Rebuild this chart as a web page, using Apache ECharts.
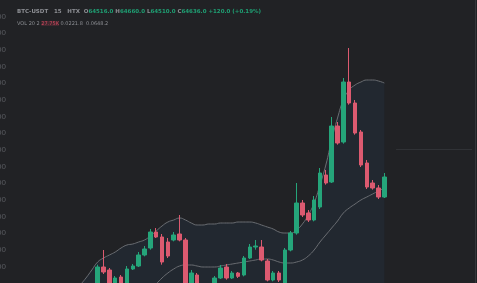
<!DOCTYPE html>
<html><head><meta charset="utf-8">
<script src="https://cdn.jsdelivr.net/npm/echarts@6/dist/echarts.min.js"></script>
<style>html,body{margin:0;padding:0;background:#212225;}#c{width:477px;height:283px;}</style>
</head><body><div id="c"></div>
<script>
// ---- data ----
const categoryCount = 80;           // time slots on the x axis
const candleStart = 15;             // first visible candle slot
const opens  = [63958,64096,64078,63958,64036,63946,64084,64102,64168,64210,64306,64276,64246,64258,64294,64258,63958,64048,63946,63970,63970,64030,64096,64030,64060,64048,64150,64216,64216,64132,64018,64060,63970,64198,64300,64480,64420,64378,64456,64648,64606,64942,64846,65206,65080,64906,64720,64600,64570,64516];
const closes = [64096,64066,63958,64030,63946,64084,64102,64168,64204,64306,64276,64126,64162,64288,64258,63958,64060,63958,63970,63988,64030,64090,64030,64060,64040,64150,64216,64222,64138,64018,64060,64018,64198,64300,64480,64408,64378,64498,64660,64600,64942,64840,65206,65080,64900,64708,64576,64570,64516,64636];
const lows   = [63940,64054,63946,63940,63930,63930,64078,64096,64160,64200,64270,64110,64150,64250,64250,63940,63946,63940,63930,63960,63960,64024,64020,64024,64030,64040,64144,64200,64130,64010,64010,64006,63960,64190,64290,64396,64366,64370,64444,64590,64600,64830,64836,65070,64890,64696,64564,64560,64504,64510];
const highs  = [64110,64198,64090,64042,64048,64102,64114,64186,64222,64324,64330,64294,64270,64306,64408,64270,64078,64060,63982,63994,64042,64108,64114,64072,64066,64162,64234,64258,64258,64144,64072,64072,64210,64312,64600,64498,64438,64522,64690,64678,64996,64966,65230,65410,65098,64918,64738,64618,64588,64660];
const upperStart = 12;
const upperBand = [63988,64030,64078,64126,64150,64168,64186,64210,64228,64234,64246,64258,64282,64312,64342,64366,64378,64390,64378,64360,64348,64348,64354,64354,64360,64360,64360,64366,64366,64366,64360,64348,64336,64324,64306,64300,64300,64318,64354,64408,64480,64588,64708,64858,64990,65098,65158,65188,65206,65218,65218,65212,65200];
const lowerStart = 24;
const lowerBand = [63958,63994,64030,64060,64084,64102,64108,64108,64102,64096,64096,64096,64102,64108,64114,64120,64126,64132,64138,64144,64144,64138,64126,64120,64120,64126,64138,64162,64198,64246,64288,64330,64372,64420,64450,64474,64498,64516,64534,64552,64570];
const priceLine = 64800;            // faint horizontal price line on the right
const priceLineFrom = 66, priceLineTo = 79;
const yMin = 64000, yMax = 65698, yStep = 100;

// ---- build series arrays ----
const cats = [];
for (let i = 0; i < categoryCount; i++) cats.push(String(i));
const candles = new Array(categoryCount).fill('-');
opens.forEach((o, i) => { candles[candleStart + i] = [o, closes[i], lows[i], highs[i]]; });
const up = new Array(categoryCount).fill('-');
upperBand.forEach((v, i) => { up[upperStart + i] = v; });
const lo = new Array(categoryCount).fill('-');
lowerBand.forEach((v, i) => { lo[lowerStart + i] = v; });

const green = '#25a57a', red = '#dc5a70';
const chart = echarts.init(document.getElementById('c'), null, {renderer: 'canvas'});
chart.setOption({
  backgroundColor: '#212225',
  animation: false,
  title: {
    left: 17, top: 9, itemGap: 6, padding: 0,
    text: '{g|BTC-USDT   15   HTX}  {g|O}{v|64516.0} {g|H}{v|64660.0} {g|L}{v|64510.0} {g|C}{v|64636.0} {v|+120.0 (+0.19%)}',
    subtext: '{g|VOL 20 2} {r|27.75K} {g|0.0221.8  0.0648.2}',
    textStyle: {fontSize: 5.5, fontFamily: 'DejaVu Sans', rich: {
      g: {color: '#8d8f94', fontSize: 5.5, fontFamily: 'DejaVu Sans'},
      v: {color: '#1f9f73', fontSize: 5.5, fontFamily: 'DejaVu Sans'}
    }},
    subtextStyle: {fontSize: 5, fontFamily: 'DejaVu Sans', rich: {
      g: {color: '#8d8f94', fontSize: 5, fontFamily: 'DejaVu Sans'},
      r: {color: '#d0485e', fontSize: 5, fontFamily: 'DejaVu Sans', backgroundColor: 'rgba(208,72,94,0.18)'}
    }}
  },
  grid: {left: 7, right: 2, top: 0, bottom: 0, outerBoundsMode: 'none', containLabel: false},
  xAxis: {type: 'category', data: cats, show: false, boundaryGap: true},
  yAxis: [{
    type: 'value', min: yMin, max: yMax, interval: yStep, position: 'left',
    axisLine: {show: false}, axisTick: {show: false}, splitLine: {show: false},
    axisLabel: {color: '#5a5c61', fontSize: 8, margin: 1, showMaxLabel: false, showMinLabel: false}
  }, {
    type: 'value', min: yMin, max: yMax, position: 'right',
    axisLine: {show: true, lineStyle: {color: '#34363a'}}, axisTick: {show: false},
    splitLine: {show: false}, axisLabel: {show: false}
  }],
  series: [
    {type: 'line', data: up, smooth: true, symbol: 'none', z: 1,
     lineStyle: {color: '#6a6d72', width: 1},
     areaStyle: {color: 'rgba(40,66,90,0.30)', origin: 'start'},
     markLine: {silent: true, symbol: 'none', label: {show: false},
       lineStyle: {color: '#303236', width: 1, type: 'solid'},
       data: [[{xAxis: priceLineFrom, yAxis: priceLine}, {xAxis: priceLineTo, yAxis: priceLine}]]}},
    {type: 'line', data: lo, smooth: true, symbol: 'none', z: 1,
     lineStyle: {color: '#6a6d72', width: 1}},
    {type: 'candlestick', data: candles, barWidth: 4, z: 3,
     itemStyle: {color: green, color0: red, borderColor: green, borderColor0: red, borderWidth: 1}}
  ]
});
</script></body></html>
